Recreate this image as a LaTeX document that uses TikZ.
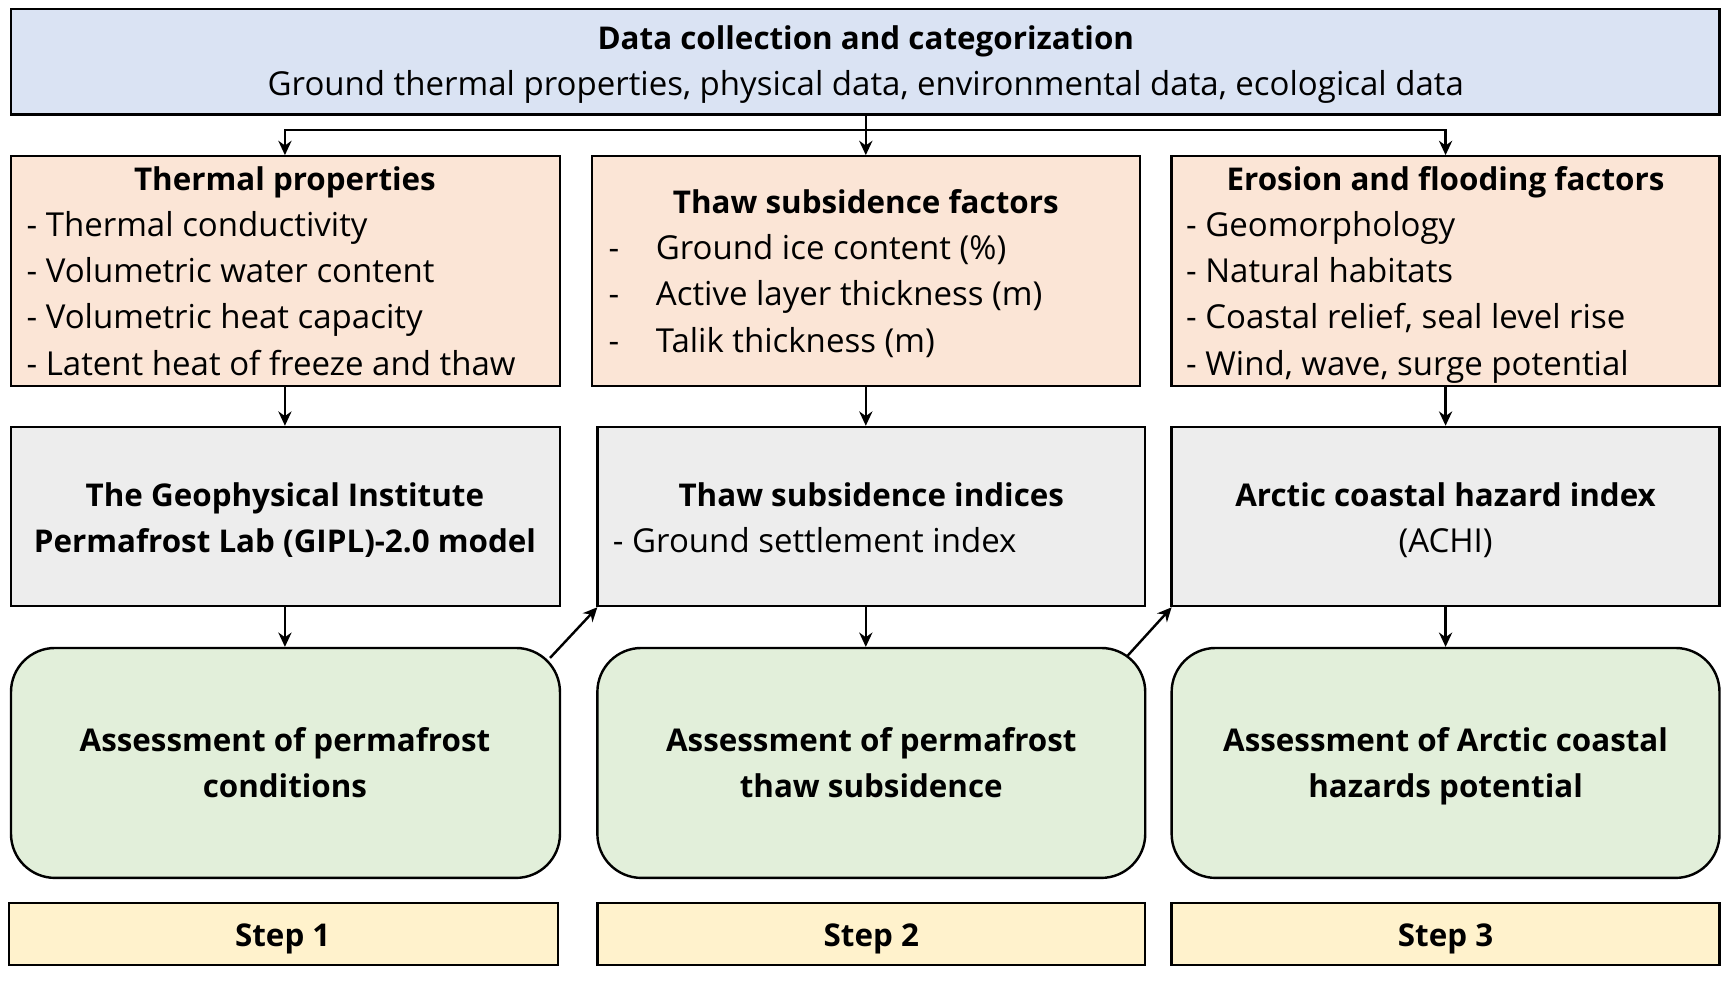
\documentclass[tikz,border=0pt]{standalone}
\usepackage{fontspec}
\setmainfont{Open Sans}
\usetikzlibrary{arrows.meta}
\definecolor{cblue}{HTML}{DAE3F3}
\definecolor{cpink}{HTML}{FBE5D6}
\definecolor{cgray}{HTML}{EDEDED}
\definecolor{cgreen}{HTML}{E2EFDA}
\definecolor{cyel}{HTML}{FFF2CC}
\begin{document}
\begin{tikzpicture}[x=1pt,y=-1pt,
  box/.style={draw=black,line width=2.2pt},
  arr/.style={-{Stealth[length=13pt,width=12pt]},line width=2.2pt},
  txt/.style={font=\fontsize{30}{42}\selectfont,inner sep=0pt,anchor=base},
  ltxt/.style={txt,anchor=base west},
  btxt/.style={txt,font=\fontsize{28.5}{42}\selectfont\bfseries}]
\useasboundingbox (0,0) rectangle (1568,893);
% boxes
\draw[box,fill=cblue] (10,8) rectangle (1563,104);
\draw[box,fill=cpink] (10,142) rectangle (509,351);
\draw[box,fill=cpink] (538,142) rectangle (1036,351);
\draw[box,fill=cpink] (1065,142) rectangle (1563,351);
\draw[box,fill=cgray] (10,388) rectangle (509,551);
\draw[box,fill=cgray] (543,388) rectangle (1041,551);
\draw[box,fill=cgray] (1065,388) rectangle (1563,551);
\draw[box,fill=cgreen,rounded corners=40pt] (10,589) rectangle (509,798);
\draw[box,fill=cgreen,rounded corners=40pt] (543,589) rectangle (1041,798);
\draw[box,fill=cgreen,rounded corners=40pt] (1065,589) rectangle (1563,798);
\draw[box,fill=cyel] (8,821) rectangle (507,877);
\draw[box,fill=cyel] (543,821) rectangle (1041,877);
\draw[box,fill=cyel] (1065,821) rectangle (1563,877);
% arrows
\draw[line width=2.2pt] (787,104) -- (787,118);
\draw[line width=2.2pt,line cap=rect] (259,118) -- (1314,118);
\foreach \x in {259,787,1314} \draw[arr] (\x,118) -- (\x,141);
\foreach \x in {259,787,1314} \draw[arr] (\x,351) -- (\x,387);
\foreach \x in {259,787,1314} \draw[arr] (\x,551) -- (\x,588);
\draw[arr] (500,598) -- (543,552);
\draw[arr] (1025,596) -- (1065,552);
% texts
\node[btxt] (t1) at (787,45) {Data collection and categorization};
\node[txt] (t2) at (787,87) {Ground thermal properties, physical data, environmental data, ecological data};
\node[btxt] (a0) at (259,173) {Thermal properties};
\node[ltxt] (a1) at (24,215) {- Thermal conductivity};
\node[ltxt] (a2) at (24,257) {- Volumetric water content};
\node[ltxt] (a3) at (24,299) {- Volumetric heat capacity};
\node[ltxt] (a4) at (24,341) {- Latent heat of freeze and thaw};
\node[btxt] (b0) at (787,194) {Thaw subsidence factors};
\foreach \y/\t [count=\i] in {236/Ground ice content (\%),278/Active layer thickness (m),320/Talik thickness (m)}{
  \node[ltxt] (bd\i) at (553,\y) {-};
  \node[ltxt] (b\i) at (596,\y) {\t};}
\node[btxt] (c0) at (1314,173) {Erosion and flooding factors};
\node[ltxt] (c1) at (1078,215) {- Geomorphology};
\node[ltxt] (c2) at (1078,257) {- Natural habitats};
\node[ltxt] (c3) at (1078,299) {- Coastal relief, seal level rise};
\node[ltxt] (c4) at (1078,341) {- Wind, wave, surge potential};
\node[btxt] (d1) at (259,460) {The Geophysical Institute};
\node[btxt] (d2) at (259,502) {Permafrost Lab (GIPL)-2.0 model};
\node[btxt] (e1) at (792,460) {Thaw subsidence indices};
\node[ltxt] (e2) at (557,502) {- Ground settlement index};
\node[btxt] (f1) at (1314,460) {Arctic coastal hazard index};
\node[txt] (f2) at (1314,502) {(ACHI)};
\node[btxt] (g1) at (259,683) {Assessment of permafrost};
\node[btxt] (g2) at (259,725) {conditions};
\node[btxt] (h1) at (792,683) {Assessment of permafrost};
\node[btxt] (h2) at (792,725) {thaw subsidence};
\node[btxt] (i1) at (1314,683) {Assessment of Arctic coastal};
\node[btxt] (i2) at (1314,725) {hazards potential};
\node[btxt] (s1) at (257,860) {Step 1};
\node[btxt] (s2) at (792,860) {Step 2};
\node[btxt] (s3) at (1314,860) {Step 3};
\end{tikzpicture}
\end{document}
